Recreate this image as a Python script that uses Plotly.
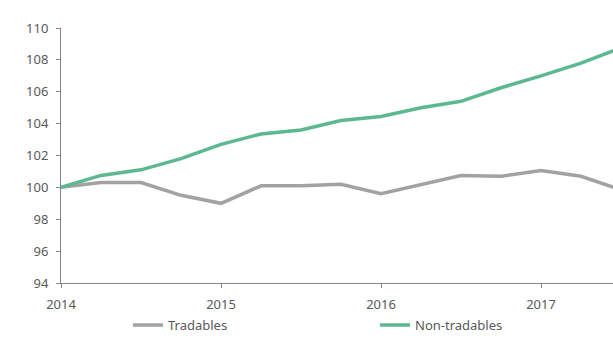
import plotly.graph_objects as go

quarters = [2014.0, 2014.25, 2014.5, 2014.75, 2015.0, 2015.25, 2015.5, 2015.75,
            2016.0, 2016.25, 2016.5, 2016.75, 2017.0, 2017.25, 2017.5]
tradables = [100.0, 100.3, 100.3, 99.5, 99.0, 100.1, 100.1, 100.2,
             99.6, 100.2, 100.75, 100.7, 101.05, 100.7, 99.85]
non_tradables = [100.0, 100.75, 101.1, 101.8, 102.7, 103.35, 103.6, 104.2,
                 104.45, 105.0, 105.4, 106.25, 107.0, 107.8, 108.75]
x_ticks = [2014, 2015, 2016, 2017]
y_ticks = [94, 96, 98, 100, 102, 104, 106, 108, 110]

font_family = "Noto Sans"
txt_color = "#595959"
axis_color = "#868686"

fig = go.Figure()
fig.add_trace(go.Scatter(x=quarters, y=tradables, mode="lines", name="Tradables",
                         line=dict(color="#a3a2a3", width=3.5), legend="legend"))
fig.add_trace(go.Scatter(x=quarters, y=non_tradables, mode="lines", name="Non-tradables",
                         line=dict(color="#5cb890", width=3.5), legend="legend2"))

leg_common = dict(orientation="h", y=-0.165, yanchor="middle", xanchor="left",
                  font=dict(size=13, color=txt_color), bgcolor="rgba(0,0,0,0)",
                  itemwidth=30)
fig.update_layout(
    width=613, height=345,
    margin=dict(l=61, r=0, t=28, b=62),
    paper_bgcolor="white", plot_bgcolor="white",
    font=dict(family=font_family, size=13, color=txt_color),
    showlegend=True,
    legend=dict(x=(128 - 61) / 552, **leg_common),
    legend2=dict(x=(375 - 61) / 552, **leg_common),
)
fig.update_xaxes(range=[2014, 2014 + 552 / 160], tickvals=x_ticks,
                 ticktext=[str(v) for v in x_ticks],
                 showgrid=False, zeroline=False, showline=True, linecolor=axis_color,
                 linewidth=1, ticks="outside", ticklen=4, tickcolor=axis_color,
                 ticklabelstandoff=5,
                 tickfont=dict(size=13, color=txt_color))
fig.update_yaxes(range=[94, 110], tickvals=y_ticks,
                 showgrid=False, zeroline=False, showline=True, linecolor=axis_color,
                 linewidth=1, ticks="outside", ticklen=4, tickcolor=axis_color,
                 ticklabelstandoff=5,
                 tickfont=dict(size=13, color=txt_color))

fig.write_html("out.html")
